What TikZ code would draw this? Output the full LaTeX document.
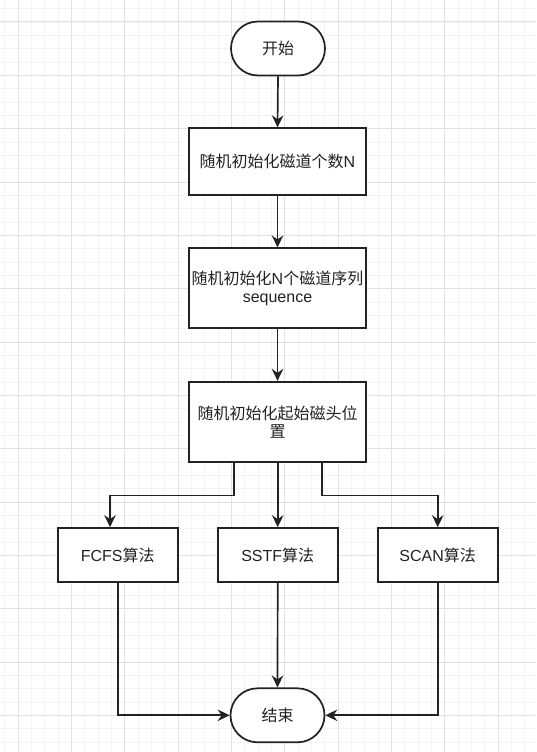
\documentclass[tikz,border=0pt]{standalone}
\usepackage{fontspec}
\setmainfont{Liberation Sans}
\newfontfamily\cjk{Noto Sans CJK SC}
\usetikzlibrary{arrows.meta,shapes.misc}
\definecolor{gridmin}{HTML}{F3F3F3}
\definecolor{gridmaj}{HTML}{E2E2E2}
\definecolor{ink}{HTML}{222222}
\tikzset{
  base/.style={draw=ink, line width=1.7pt, fill=white, text=ink, inner sep=0pt, align=center, font=\fontsize{16}{18}\selectfont},
  procbox/.style={base, rectangle, minimum width=177pt},
  algbox/.style={base, rectangle, minimum width=120pt, minimum height=54pt},
  term/.style={base, rounded rectangle, minimum width=94pt, minimum height=54pt},
  arr/.style={draw=ink, line width=1.7pt, -{Stealth[length=12pt,width=11.5pt,inset=4pt]}}
}
\begin{document}
\begin{tikzpicture}[x=1pt,y=-1pt]
\useasboundingbox (0,0) rectangle (536,752);
\fill[white] (0,0) rectangle (536,752);
% minor grid
\foreach \i in {0,...,41} {
  \draw[gridmin, line width=0.8pt] ({4.67+13.333*\i},0) -- ({4.67+13.333*\i},752);
}
\foreach \i in {0,...,57} {
  \draw[gridmin, line width=0.8pt] (0,{8.67+13.333*\i}) -- (536,{8.67+13.333*\i});
}
% major grid
\foreach \i in {0,...,10} {
  \draw[gridmaj, line width=1pt] ({18+53.333*\i},0) -- ({18+53.333*\i},752);
}
\foreach \i in {0,...,14} {
  \draw[gridmaj, line width=1pt] (0,{22+53.333*\i}) -- (536,{22+53.333*\i});
}
% nodes
\node[term] (start) at (278,48.5) {\cjk 开始};
\node[procbox, minimum height=67pt] (b1) at (277.5,161.7) {{\cjk 随机初始化磁道个数}N};
\node[procbox, minimum height=80pt] (b2) at (277.5,288.3) {{\cjk 随机初始化}N{\cjk 个磁道序列}\\sequence};
\node[procbox, minimum height=80pt] (b3) at (277.5,421.7) {{\cjk 随机初始化起始磁头位}\\{\cjk 置}};
\node[algbox] (fcfs) at (117.7,555) {FCFS{\cjk 算法}};
\node[algbox] (sstf) at (277.7,555) {SSTF{\cjk 算法}};
\node[algbox] (scan) at (437.7,555) {SCAN{\cjk 算法}};
\node[term] (end) at (277.5,715.3) {\cjk 结束};
% connectors
\draw[arr] (start.south) -- (b1.north);
\draw[arr] (b1.south) -- (b2.north);
\draw[arr] (b2.south) -- (b3.north);
\draw[arr] ([xshift=-43.5pt]b3.south) -- ++(0,33) -| ([xshift=-7.7pt]fcfs.north);
\draw[arr] (b3.south -| sstf.north) -- (sstf.north);
\draw[arr] ([xshift=44.8pt]b3.south) -- ++(0,33) -| (scan.north);
\draw[arr] (fcfs.south) |- (end.west);
\draw[arr] (sstf.south) -- (end.north);
\draw[arr] (scan.south) |- (end.east);
\end{tikzpicture}
\end{document}
